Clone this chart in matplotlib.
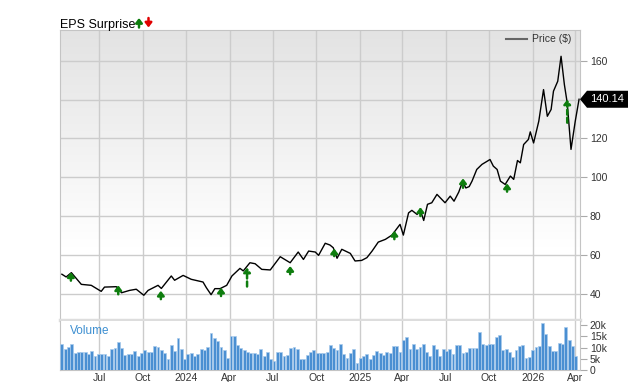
import matplotlib
matplotlib.use("Agg")
import numpy as np
import pandas as pd
import matplotlib.pyplot as plt
import matplotlib.dates as mdates
from matplotlib.colors import LinearSegmentedColormap
from matplotlib.patches import Polygon
from matplotlib.lines import Line2D
from matplotlib.transforms import IdentityTransform

plt.rcParams['font.family'] = ['Liberation Sans', 'DejaVu Sans']

# weekly closing price
price_dates = ["2023-04-13", "2023-04-22", "2023-05-03", "2023-05-24", "2023-06-14", "2023-07-05",
               "2023-07-12", "2023-08-06", "2023-08-17", "2023-09-03", "2023-09-17", "2023-10-03",
               "2023-10-12", "2023-11-02", "2023-11-09", "2023-11-30", "2023-12-07", "2023-12-25",
               "2024-01-11", "2024-02-05", "2024-02-12", "2024-02-22", "2024-03-01", "2024-03-12",
               "2024-03-26", "2024-04-06", "2024-04-23", "2024-04-30", "2024-05-14", "2024-05-25",
               "2024-06-08", "2024-06-26", "2024-07-17", "2024-08-07", "2024-08-24", "2024-09-04",
               "2024-09-15", "2024-09-29", "2024-10-06", "2024-10-20", "2024-10-30", "2024-11-06",
               "2024-11-14", "2024-11-24", "2024-12-12", "2024-12-22", "2025-01-05", "2025-01-16",
               "2025-01-27", "2025-02-09", "2025-02-24", "2025-03-10", "2025-03-27", "2025-04-03",
               "2025-04-14", "2025-04-21", "2025-05-02", "2025-05-09", "2025-05-16", "2025-05-24",
               "2025-06-02", "2025-06-13", "2025-06-30", "2025-07-11", "2025-07-19", "2025-07-29",
               "2025-08-06", "2025-08-13", "2025-08-20", "2025-08-26", "2025-09-05", "2025-09-16",
               "2025-10-03", "2025-10-10", "2025-10-18", "2025-10-25", "2025-11-04", "2025-11-15",
               "2025-11-22", "2025-11-30", "2025-12-06", "2025-12-13", "2025-12-23", "2025-12-27",
               "2026-01-03", "2026-01-14", "2026-01-24", "2026-02-01", "2026-02-09", "2026-02-14",
               "2026-02-23", "2026-03-02", "2026-03-09", "2026-03-15", "2026-03-23", "2026-04-01",
               "2026-04-09"]
price_vals = [50.3, 48.9, 51.1, 45.1, 44.6, 41.5,
              43.7, 43.9, 40.8, 42.0, 42.6, 39.5,
              42.0, 44.6, 43.0, 49.4, 47.2, 49.7,
              47.7, 46.3, 43.4, 39.8, 42.9, 42.9,
              44.6, 49.4, 53.3, 52.0, 56.2, 55.7,
              52.8, 52.5, 59.3, 56.2, 61.7, 57.9,
              62.2, 61.7, 60.0, 66.2, 65.3, 63.9,
              58.5, 63.1, 61.0, 57.1, 57.4, 58.8,
              62.2, 66.8, 68.2, 70.4, 75.9, 70.4,
              81.8, 83.1, 81.0, 83.1, 77.9, 86.2,
              87.0, 91.3, 87.0, 90.4, 87.8, 92.5,
              97.8, 94.6, 95.3, 98.1, 104.1, 106.7,
              109.2, 105.8, 104.1, 98.1, 96.4, 100.7,
              99.0, 108.7, 107.5, 116.9, 119.5, 123.4,
              117.7, 128.9, 145.1, 131.4, 134.9, 144.3,
              149.4, 162.2, 147.7, 138.3, 114.4, 128.9,
              140.14]

# EPS surprise arrows (all positive): date, arrow tip, arrow base, dashed
eps_dates = ["2023-05-02", "2023-08-10", "2023-11-08", "2024-03-14", "2024-05-08", "2024-08-07",
             "2024-11-08", "2025-03-15", "2025-05-09", "2025-08-07", "2025-11-08", "2026-03-15"]
eps_tip = [51.3, 44.6, 41.8, 43.4, 53.7, 54.5, 63.5, 72.6, 84.7, 99.5, 96.9, 140.0]
eps_base = [47.0, 40.0, 37.5, 39.1, 44.0, 50.3, 59.6, 68.3, 80.2, 94.7, 92.7, 128.1]
eps_dashed = [False, False, False, False, True, False, False, False, False, False, False, True]

# weekly volume in thousands
volume_start = "2023-04-13"
volume_k = [11.6, 9.2, 10.3, 11.6, 7.6, 8.2, 8.0, 7.9, 7.1, 8.5,
            6.4, 7.1, 7.1, 7.1, 6.1, 9.2, 10.0, 12.5, 9.8, 6.8,
            7.0, 7.0, 8.3, 6.4, 7.7, 8.8, 8.0, 8.0, 10.7, 10.1,
            9.1, 7.4, 5.1, 11.2, 8.6, 14.4, 9.4, 4.8, 7.0, 7.7,
            6.4, 7.0, 9.4, 9.1, 10.3, 16.4, 14.3, 12.9, 10.4, 9.1,
            5.2, 15.0, 15.0, 11.2, 9.7, 8.8, 8.0, 7.7, 7.6, 7.0,
            9.4, 6.4, 7.9, 4.9, 4.0, 8.2, 8.2, 6.4, 6.7, 9.7,
            10.3, 9.2, 4.8, 4.9, 6.5, 7.9, 8.9, 7.4,
            7.4, 7.7, 7.9, 11.2, 10.0, 8.9, 11.5, 7.0, 5.5, 7.7,
            9.4, 3.0, 5.5, 6.1, 7.0, 4.9, 6.8, 8.5, 7.7, 6.8,
            7.9, 7.7, 10.6, 10.6, 7.9, 13.5, 14.7, 9.4, 11.5, 9.2,
            10.3, 11.5, 8.0, 6.1, 11.2, 9.5, 6.1, 9.5, 8.5, 9.2,
            7.3, 11.3, 11.2, 7.6, 7.9, 10.0, 9.8, 9.7, 16.8, 11.8,
            11.0, 11.6, 11.5, 14.7, 15.8, 8.9, 9.2, 7.9, 5.7, 8.8,
            10.6, 11.0, 5.2, 5.8, 9.1, 10.1, 10.6, 21.0, 15.9, 10.9,
            8.5, 8.5, 12.1, 11.5, 19.2, 13.4, 10.9, 6.1]

price_ticks = [40, 60, 80, 100, 120, 140, 160]
vol_ticks = [0, 5, 10, 15, 20]
vol_tick_labels = ["0", "5k", "10k", "15k", "20k"]

green = "#0e7d0e"
grid_c = "#cccccc"
edge_c = "#c4c4c4"
text_c = "#333333"
arrow_style = "-|>,head_width=0.2,head_length=0.26"

fig = plt.figure(figsize=(6.4, 3.82), dpi=100)
ax = fig.add_axes([60 / 640, 1 - 320 / 382, 520 / 640, 290 / 382])
axv = fig.add_axes([60 / 640, 1 - 370 / 382, 520 / 640, 49 / 382], sharex=ax)

pd_dates = pd.to_datetime(price_dates)
xmin = pd.Timestamp("2023-04-09")
xmax = pd.Timestamp("2026-04-11")

# gradient background of the price panel
grad = np.clip(np.linspace(0, 1, 256) / 0.75, 0, 1).reshape(-1, 1)
cmap = LinearSegmentedColormap.from_list("bg", ["#e3e3e3", "#ffffff"])
ax.imshow(grad, cmap=cmap, aspect="auto", extent=[0, 1, 0, 1],
          transform=ax.transAxes, zorder=0, origin="upper")

ax.plot(pd_dates, price_vals, color="black", lw=1.0, zorder=3)

for d, tip, base, dashed in zip(pd.to_datetime(eps_dates), eps_tip, eps_base, eps_dashed):
    ax.annotate("", xy=(d, tip), xytext=(d, base),
                arrowprops=dict(arrowstyle=arrow_style, mutation_scale=10,
                                color=green, lw=1.8, ls=(0, (2, 1.2)) if dashed else "-",
                                shrinkA=0, shrinkB=0), zorder=4)

ax.set_xlim(xmin, xmax)
ax.set_ylim(26.8, 175.7)
ax.set_yticks(price_ticks)
# the 140 label sits under the last-price tag
ax.set_yticklabels(["" if t == 140 else str(t) for t in price_ticks])
ax.yaxis.tick_right()
ax.tick_params(axis="y", length=5, color="#aaaaaa", labelsize=7.5, labelcolor=text_c, pad=2)
ax.tick_params(axis="x", length=0, labelbottom=False)
ax.grid(True, color=grid_c, lw=1)
ax.set_axisbelow(True)
for s in ax.spines.values():
    s.set_color(edge_c)
ax.spines["bottom"].set_color("#dddddd")
ax.spines["bottom"].set_linewidth(2.5)

leg = ax.legend(handles=[Line2D([], [], color="#666666", lw=1.5)], labels=["Price ($)"],
                loc="upper right", bbox_to_anchor=(0.983, 0.985), frameon=False,
                fontsize=7.5, handlelength=2.0, handletextpad=0.5, borderpad=0, borderaxespad=0)
for t in leg.get_texts():
    t.set_color(text_c)

# volume panel
vol_dates = pd.date_range(volume_start, periods=len(volume_k), freq="7D")
axv.bar(vol_dates, volume_k, width=6, color="#4a8fd2", edgecolor="#a9cbec", lw=0.5, zorder=3)
axv.set_ylim(0, 21.9)
axv.set_yticks(vol_ticks)
axv.set_yticklabels(vol_tick_labels)
axv.yaxis.tick_right()
axv.tick_params(axis="y", length=5, color="#aaaaaa", labelsize=7.5, labelcolor=text_c, pad=2)
axv.grid(True, axis="x", color=grid_c, lw=1)
axv.set_axisbelow(True)
for s in axv.spines.values():
    s.set_color(edge_c)
axv.spines["top"].set_visible(False)
axv.text(0.02, 0.8, "Volume", transform=axv.transAxes, color="#3d8fd1",
         fontsize=8.5, va="center", ha="left")

qticks = pd.date_range("2023-07-01", "2026-04-01", freq="QS")
axv.set_xticks(qticks)
axv.set_xticklabels([str(d.year) if d.month == 1 else d.strftime("%b") for d in qticks])
axv.tick_params(axis="x", length=0, labelsize=7.5, labelcolor=text_c, pad=2)
ax.set_xlim(xmin, xmax)

# last price tag
px, py = ax.transData.transform((mdates.date2num(xmax), price_vals[-1]))
tag = Polygon([(px, py), (px + 7, py + 8.5), (px + 48, py + 8.5), (px + 48, py - 8.5), (px + 7, py - 8.5)],
              closed=True, facecolor="black", edgecolor="none", transform=IdentityTransform())
fig.add_artist(tag)
tx, ty = fig.transFigure.inverted().transform((px + 27, py))
fig.text(tx, ty, f"{price_vals[-1]:.2f}", color="white", fontsize=8, ha="center", va="center")

# header
fig.text(60 / 640, 1 - 27.7 / 382, "EPS Surprise", fontsize=9, color="black", va="baseline")
ax.annotate("", xy=(139, 382 - 18), xytext=(139, 382 - 27.5), xycoords="figure pixels",
            textcoords="figure pixels",
            arrowprops=dict(arrowstyle=arrow_style, mutation_scale=10, color=green, lw=1.8,
                            shrinkA=0, shrinkB=0), annotation_clip=False)
ax.annotate("", xy=(148.5, 382 - 27.5), xytext=(148.5, 382 - 18), xycoords="figure pixels",
            textcoords="figure pixels",
            arrowprops=dict(arrowstyle=arrow_style, mutation_scale=10, color="#e00000", lw=1.8,
                            shrinkA=0, shrinkB=0), annotation_clip=False)

fig.savefig("out.png", dpi=100)
